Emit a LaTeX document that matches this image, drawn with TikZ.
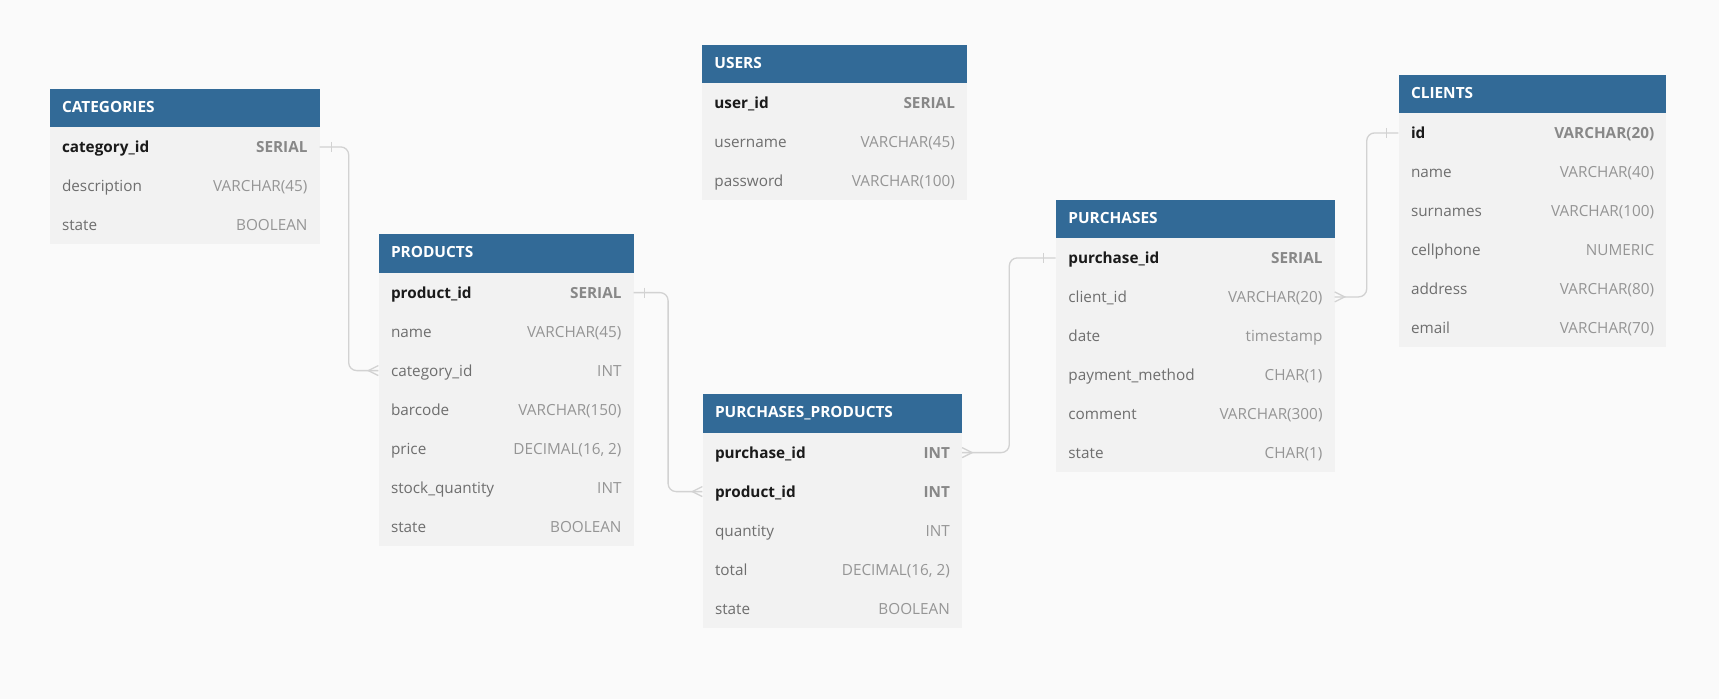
\documentclass[tikz,border=0pt]{standalone}
\usepackage{fontspec}
\setmainfont{Open Sans}

\definecolor{BgGray}{HTML}{FAFAFA}
\definecolor{HeadBlue}{HTML}{326A97}
\definecolor{RowGray}{HTML}{F2F2F2}
\definecolor{KeyBlack}{HTML}{1A1A1A}
\definecolor{KeyGray}{HTML}{888888}
\definecolor{FldGray}{HTML}{6E6E6E}
\definecolor{TypeGray}{HTML}{959595}
\definecolor{LineGray}{HTML}{D2D2D2}

\begin{document}
\begin{tikzpicture}[
        %Environment config
        x=1pt, y=-1pt,
        %Environment styles
        TblHead/.style={fill=HeadBlue, minimum height=38.5pt, inner sep=0pt, anchor=north west},
        TblRow/.style={fill=RowGray, minimum height=39pt, inner sep=0pt, anchor=north west},
        HeadText/.style={text=white, font={\fontsize{15.4}{18}\selectfont\bfseries}, inner sep=0pt, anchor=base west},
        KeyName/.style={text=KeyBlack, font={\fontsize{15.3}{18}\selectfont\bfseries}, inner sep=0pt, anchor=base west},
        KeyType/.style={text=KeyGray, font={\fontsize{15.3}{18}\selectfont\bfseries}, inner sep=0pt, anchor=base east},
        FldName/.style={text=FldGray, font={\fontsize{15.3}{18}\selectfont}, inner sep=0pt, anchor=base west},
        FldType/.style={text=TypeGray, font={\fontsize{15.3}{18}\selectfont}, inner sep=0pt, anchor=base east},
        RelLine/.style={draw=LineGray, line width=1.3pt, rounded corners=8pt},
        RelMark/.style={draw=LineGray, line width=1.3pt}
    ]
    \fill[BgGray] (0,0) rectangle (1719,699);

    % CATEGORIES
    \node[TblHead, minimum width=270pt] (CAT) at (49.3,88.3) {};
    \node[HeadText] (CAT-h) at ([xshift=12.5pt,yshift=-4.4pt]CAT.west) {CATEGORIES};
    \foreach \n/\t/\s [count=\i] in {category\_id/SERIAL/Key, description/VARCHAR(45)/Fld, state/BOOLEAN/Fld}{
        \node[TblRow, minimum width=270pt] (CAT-\i) at ([yshift={-(\i-1)*39pt}]CAT.south west) {};
        \node[\s Name] (CAT-\i-n) at ([xshift=12.5pt,yshift=-5.4pt]CAT-\i.west) {\n};
        \node[\s Type] (CAT-\i-t) at ([xshift=-12pt,yshift=-5.4pt]CAT-\i.east) {\t};
    }

    % PRODUCTS
    \node[TblHead, minimum width=255pt] (PRD) at (378.3,234) {};
    \node[HeadText] (PRD-h) at ([xshift=12.5pt,yshift=-4.4pt]PRD.west) {PRODUCTS};
    \foreach \n/\t/\s [count=\i] in {product\_id/SERIAL/Key, name/VARCHAR(45)/Fld, category\_id/INT/Fld,
            barcode/VARCHAR(150)/Fld, price/{DECIMAL(16, 2)}/Fld, stock\_quantity/INT/Fld, state/BOOLEAN/Fld}{
        \node[TblRow, minimum width=255pt] (PRD-\i) at ([yshift={-(\i-1)*39pt}]PRD.south west) {};
        \node[\s Name] (PRD-\i-n) at ([xshift=12.5pt,yshift=-5.4pt]PRD-\i.west) {\n};
        \node[\s Type] (PRD-\i-t) at ([xshift=-12pt,yshift=-5.4pt]PRD-\i.east) {\t};
    }

    % USERS
    \node[TblHead, minimum width=265pt] (USR) at (701.7,44.3) {};
    \node[HeadText] (USR-h) at ([xshift=12.5pt,yshift=-4.4pt]USR.west) {USERS};
    \foreach \n/\t/\s [count=\i] in {user\_id/SERIAL/Key, username/VARCHAR(45)/Fld, password/VARCHAR(100)/Fld}{
        \node[TblRow, minimum width=265pt] (USR-\i) at ([yshift={-(\i-1)*39pt}]USR.south west) {};
        \node[\s Name] (USR-\i-n) at ([xshift=12.5pt,yshift=-5.4pt]USR-\i.west) {\n};
        \node[\s Type] (USR-\i-t) at ([xshift=-12pt,yshift=-5.4pt]USR-\i.east) {\t};
    }

    % PURCHASES_PRODUCTS
    \node[TblHead, minimum width=259.4pt] (PP) at (702.3,394) {};
    \node[HeadText] (PP-h) at ([xshift=12.5pt,yshift=-4.4pt]PP.west) {PURCHASES\_PRODUCTS};
    \foreach \n/\t/\s [count=\i] in {purchase\_id/INT/Key, product\_id/INT/Key, quantity/INT/Fld,
            total/{DECIMAL(16, 2)}/Fld, state/BOOLEAN/Fld}{
        \node[TblRow, minimum width=259.4pt] (PP-\i) at ([yshift={-(\i-1)*39pt}]PP.south west) {};
        \node[\s Name] (PP-\i-n) at ([xshift=12.5pt,yshift=-5.4pt]PP-\i.west) {\n};
        \node[\s Type] (PP-\i-t) at ([xshift=-12pt,yshift=-5.4pt]PP-\i.east) {\t};
    }

    % PURCHASES
    \node[TblHead, minimum width=278.6pt] (PUR) at (1055.7,199.3) {};
    \node[HeadText] (PUR-h) at ([xshift=12.5pt,yshift=-4.4pt]PUR.west) {PURCHASES};
    \foreach \n/\t/\s [count=\i] in {purchase\_id/SERIAL/Key, client\_id/VARCHAR(20)/Fld, date/timestamp/Fld,
            payment\_method/CHAR(1)/Fld, comment/VARCHAR(300)/Fld, state/CHAR(1)/Fld}{
        \node[TblRow, minimum width=278.6pt] (PUR-\i) at ([yshift={-(\i-1)*39pt}]PUR.south west) {};
        \node[\s Name] (PUR-\i-n) at ([xshift=12.5pt,yshift=-5.4pt]PUR-\i.west) {\n};
        \node[\s Type] (PUR-\i-t) at ([xshift=-12pt,yshift=-5.4pt]PUR-\i.east) {\t};
    }

    % CLIENTS
    \node[TblHead, minimum width=267.7pt] (CLI) at (1398.3,74.3) {};
    \node[HeadText] (CLI-h) at ([xshift=12.5pt,yshift=-4.4pt]CLI.west) {CLIENTS};
    \foreach \n/\t/\s [count=\i] in {id/VARCHAR(20)/Key, name/VARCHAR(40)/Fld, surnames/VARCHAR(100)/Fld,
            cellphone/NUMERIC/Fld, address/VARCHAR(80)/Fld, email/VARCHAR(70)/Fld}{
        \node[TblRow, minimum width=267.7pt] (CLI-\i) at ([yshift={-(\i-1)*39pt}]CLI.south west) {};
        \node[\s Name] (CLI-\i-n) at ([xshift=12.5pt,yshift=-5.4pt]CLI-\i.west) {\n};
        \node[\s Type] (CLI-\i-t) at ([xshift=-12pt,yshift=-5.4pt]CLI-\i.east) {\t};
    }

    % relations
    \draw[RelLine] (CAT-1.east) -- ++(29,0) |- (PRD-3.west);
    \draw[RelLine] (PRD-1.east) -- ++(34.4,0) |- (PP-2.west);
    \draw[RelLine] (PUR-1.west) -- ++(-46.4,0) |- (PP-1.east);
    \draw[RelLine] (CLI-1.west) -- ++(-31.6,0) |- (PUR-2.east);

    % one side
    \draw[RelMark]
        ([xshift=12pt,yshift=5pt]CAT-1.east) -- ([xshift=12pt,yshift=-5pt]CAT-1.east)
        ([xshift=11pt,yshift=5pt]PRD-1.east) -- ([xshift=11pt,yshift=-5pt]PRD-1.east)
        ([xshift=-12pt,yshift=5pt]PUR-1.west) -- ([xshift=-12pt,yshift=-5pt]PUR-1.west)
        ([xshift=-12pt,yshift=5pt]CLI-1.west) -- ([xshift=-12pt,yshift=-5pt]CLI-1.west);

    % many side
    \draw[RelMark]
        ([yshift=5pt]PRD-3.west) -- ([xshift=-10pt]PRD-3.west) -- ([yshift=-5pt]PRD-3.west)
        ([yshift=5pt]PP-2.west) -- ([xshift=-10pt]PP-2.west) -- ([yshift=-5pt]PP-2.west)
        ([yshift=5pt]PP-1.east) -- ([xshift=10pt]PP-1.east) -- ([yshift=-5pt]PP-1.east)
        ([yshift=5pt]PUR-2.east) -- ([xshift=10pt]PUR-2.east) -- ([yshift=-5pt]PUR-2.east);
\end{tikzpicture}
\end{document}
